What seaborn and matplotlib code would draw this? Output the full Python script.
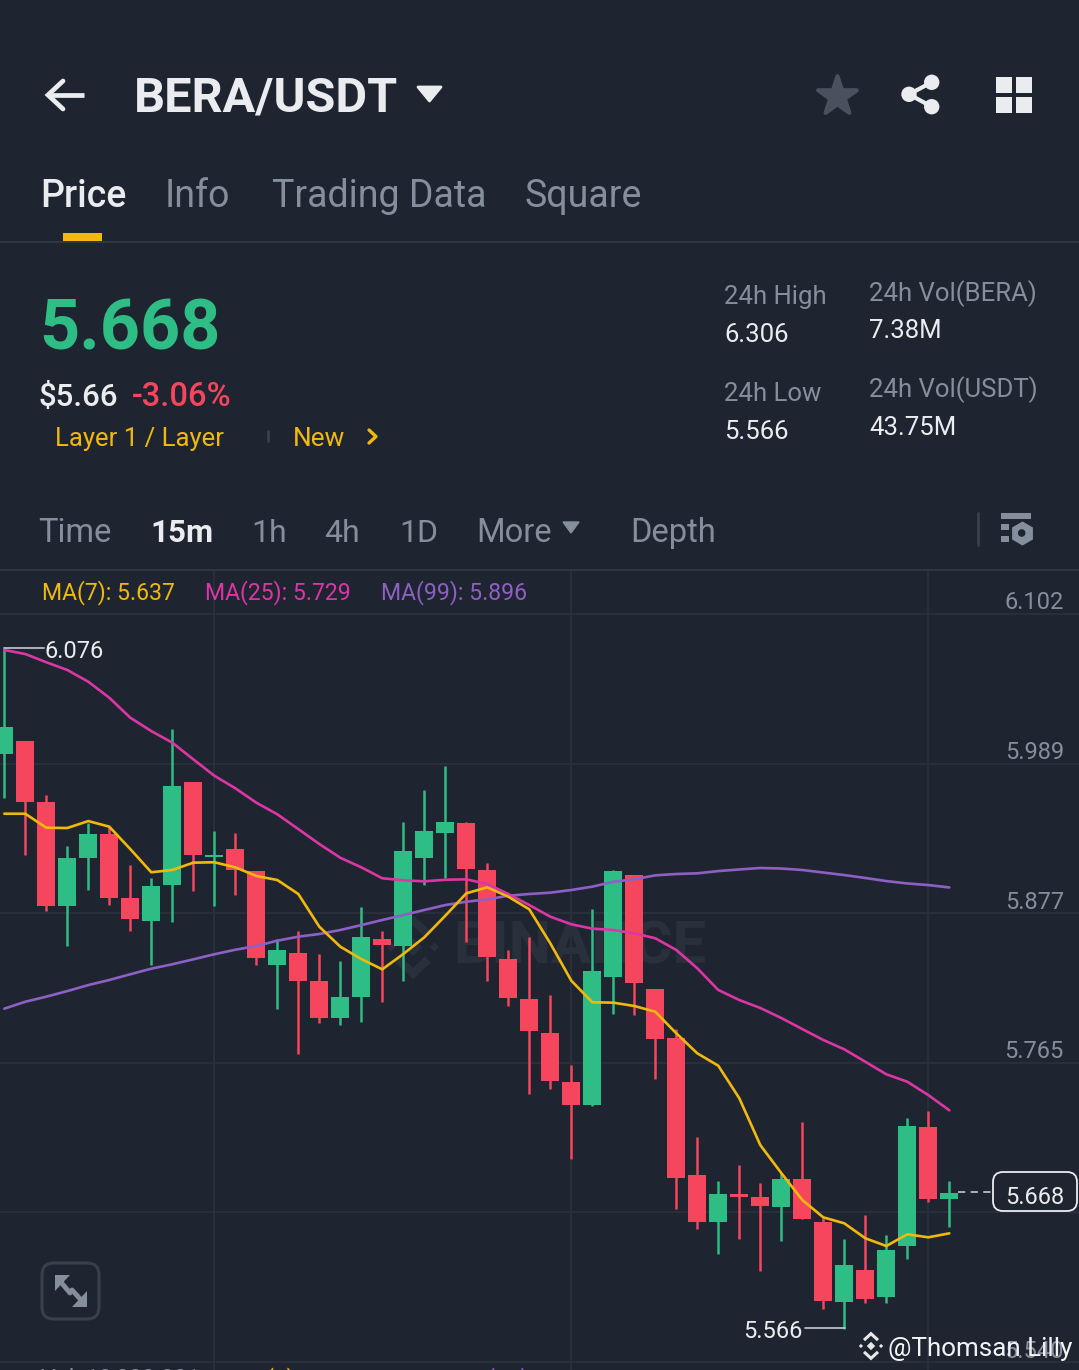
import matplotlib
matplotlib.use("Agg")
import matplotlib.pyplot as plt
from matplotlib.patches import FancyBboxPatch, Polygon, Rectangle, Circle
import pandas as pd
import seaborn as sns

# candles (15m BERA/USDT)
opens = [5.997, 6.007, 5.961, 5.883, 5.919, 5.937, 5.889, 5.872, 5.899, 5.976, 5.920, 5.926,
         5.909, 5.839, 5.848, 5.827, 5.799, 5.815, 5.858, 5.853, 5.919, 5.938, 5.945, 5.910,
         5.843, 5.813, 5.788, 5.751, 5.734, 5.830, 5.906, 5.821, 5.784, 5.681, 5.646, 5.667,
         5.665, 5.657, 5.678, 5.646, 5.586, 5.610, 5.590, 5.628, 5.717, 5.663]
highs = [6.076, 6.007, 5.966, 5.928, 5.945, 5.943, 5.914, 5.904, 6.016, 5.976, 5.939, 5.938,
         5.909, 5.858, 5.864, 5.847, 5.842, 5.882, 5.864, 5.946, 5.970, 5.988, 5.946, 5.915,
         5.850, 5.860, 5.816, 5.764, 5.881, 5.910, 5.906, 5.821, 5.791, 5.710, 5.677, 5.689,
         5.675, 5.683, 5.721, 5.649, 5.633, 5.651, 5.636, 5.724, 5.729, 5.677]
lows = [5.964, 5.921, 5.879, 5.853, 5.895, 5.884, 5.864, 5.839, 5.871, 5.894, 5.883, 5.891,
        5.839, 5.806, 5.772, 5.795, 5.794, 5.796, 5.811, 5.827, 5.899, 5.904, 5.856, 5.827,
        5.808, 5.742, 5.746, 5.693, 5.733, 5.802, 5.801, 5.753, 5.656, 5.641, 5.622, 5.633,
        5.609, 5.632, 5.648, 5.581, 5.566, 5.585, 5.585, 5.618, 5.661, 5.642]
closes = [6.017, 5.961, 5.883, 5.919, 5.937, 5.889, 5.873, 5.898, 5.973, 5.921, 5.921, 5.910,
          5.844, 5.850, 5.827, 5.799, 5.815, 5.860, 5.854, 5.924, 5.939, 5.946, 5.911, 5.845,
          5.814, 5.789, 5.752, 5.734, 5.834, 5.909, 5.825, 5.783, 5.679, 5.646, 5.667, 5.665,
          5.658, 5.678, 5.648, 5.587, 5.614, 5.588, 5.625, 5.718, 5.663, 5.668]

ma7 = [5.9522, 5.9522, 5.9417, 5.9415, 5.9467, 5.9425, 5.9257, 5.9083, 5.910, 5.9155, 5.9158,
       5.912, 5.9055, 5.9025, 5.892, 5.8675, 5.8525, 5.8432, 5.8355, 5.847, 5.8595, 5.8757,
       5.8925, 5.897, 5.890, 5.8805, 5.855, 5.827, 5.8108, 5.8105, 5.808, 5.8037, 5.7875,
       5.7725, 5.7632, 5.7388, 5.7037, 5.6827, 5.6625, 5.6495, 5.645, 5.6338, 5.628, 5.6368,
       5.6345, 5.6375]
ma25 = [6.075, 6.072, 6.0658, 6.060, 6.0512, 6.0392, 6.0242, 6.0142, 6.0055, 5.993, 5.9807,
        5.9713, 5.9605, 5.9518, 5.9407, 5.9295, 5.9192, 5.912, 5.9038, 5.9023, 5.9015, 5.9027,
        5.903, 5.8995, 5.892, 5.8837, 5.875, 5.8693, 5.866, 5.865, 5.8625, 5.8588, 5.850,
        5.8363, 5.820, 5.8125, 5.8065, 5.799, 5.7907, 5.7825, 5.7755, 5.7662, 5.7568, 5.7512,
        5.7412, 5.7298]
ma99 = [5.806, 5.8112, 5.815, 5.8192, 5.8237, 5.8275, 5.8318, 5.836, 5.8393, 5.843, 5.8468,
        5.8502, 5.853, 5.857, 5.860, 5.862, 5.865, 5.8687, 5.8725, 5.8762, 5.880, 5.8837,
        5.8862, 5.888, 5.8907, 5.892, 5.893, 5.895, 5.8975, 5.9012, 5.903, 5.906, 5.907,
        5.9075, 5.9092, 5.9104, 5.9115, 5.9111, 5.910, 5.9081, 5.9062, 5.904, 5.9017, 5.8999,
        5.8987, 5.8969]

grid_prices = [6.102, 5.9898, 5.8776, 5.7654, 5.6532, 5.541]
grid_labels = ["6.102", "5.989", "5.877", "5.765"]
grid_candles = [10, 27, 44]

BG = "#1f2530"
GRID = "#2b313c"
GREEN = "#2ebd85"
RED = "#f6465d"
YELLOW = "#f0b90b"
PINK = "#dc36a6"
PURPLE = "#8e5fc4"
WHITE = "#eaecef"
GREY = "#848e9c"
MARK = "#2a303b"

sns.set_theme(style="dark", rc={"figure.facecolor": BG, "axes.facecolor": BG})
plt.rcParams["font.family"] = ["Roboto", "DejaVu Sans"]

W, H = 1079, 1370
fig = plt.figure(figsize=(W / 100, H / 100), dpi=100)

# pixel layer under the chart, only for the faint watermark
back = fig.add_axes([0, 0, 1, 1], zorder=0)
back.set_xlim(0, W)
back.set_ylim(H, 0)
back.axis("off")

# ---- chart part, y 570..1370 px
ax = fig.add_axes([0, 0, 1, 800 / H], zorder=1)
ax.patch.set_alpha(0)
ax.set_xlim(-4.3 / 21, (W - 4.3) / 21)
ax.set_ylim(5.535, 6.135)
for s in ax.spines.values():
    s.set_visible(False)
ax.set_xticks([])
ax.set_yticks([])

for p in grid_prices:
    ax.axhline(p, color=GRID, lw=1.3, zorder=0)
for c in grid_candles:
    ax.axvline(c, color=GRID, lw=1.3, zorder=0)

df = pd.DataFrame({"open": opens, "high": highs, "low": lows, "close": closes})
df["i"] = df.index
df["color"] = [GREEN if c >= o else RED for o, c in zip(df["open"], df["close"])]

ax.vlines(df["i"], df["low"], df["high"], colors=df["color"], lw=1.8, zorder=2)
ax.bar(df["i"], (df["close"] - df["open"]).abs(), bottom=df[["open", "close"]].min(axis=1),
       width=0.87, color=df["color"], linewidth=0, zorder=3)

sns.lineplot(x=df["i"], y=ma99, ax=ax, color=PURPLE, lw=1.9, zorder=4)
sns.lineplot(x=df["i"], y=ma25, ax=ax, color=PINK, lw=1.9, zorder=4)
sns.lineplot(x=df["i"], y=ma7, ax=ax, color=YELLOW, lw=1.9, zorder=5)
ax.set_xlabel("")
ax.set_ylabel("")

# ---- everything else is drawn on a pixel overlay
ui = fig.add_axes([0, 0, 1, 1], zorder=2)
ui.set_xlim(0, W)
ui.set_ylim(H, 0)
ui.axis("off")
ui.patch.set_alpha(0)


def txt(x, y, s, size, color=WHITE, ha="left", weight="normal", on=None):
    target = ui if on is None else on
    return target.text(x, y, s, fontsize=size, color=color, ha=ha, va="center", weight=weight)


def logo(target, cx, cy, r, color, lw):
    # binance mark: diamonds in the middle and at the sides, chevrons above and below
    for dx, k in [(0, 0.3), (-0.72, 0.15), (0.72, 0.15)]:
        x0 = cx + dx * r
        target.add_patch(Polygon([(x0, cy - k * r), (x0 + k * r, cy), (x0, cy + k * r), (x0 - k * r, cy)],
                                 closed=True, fc=color, ec="none"))
    for sign in [-1, 1]:
        target.plot([cx - 0.5 * r, cx, cx + 0.5 * r],
                    [cy + sign * 0.42 * r, cy + sign * 0.88 * r, cy + sign * 0.42 * r],
                    color=color, lw=lw, solid_capstyle="butt", solid_joinstyle="miter")


# header
ui.plot([48, 84], [95, 95], color=WHITE, lw=3.4, solid_capstyle="butt")
ui.plot([63, 48, 63], [81, 95, 109], color=WHITE, lw=3.4, solid_joinstyle="miter")
txt(134, 98, "BERA/USDT", 35, weight="bold")
ui.add_patch(Polygon([(418, 87), (441, 87), (429.5, 101)], closed=True, fc=WHITE, ec=WHITE, lw=2, joinstyle="round"))
ui.scatter([837], [96], marker="*", s=850, color="#4a505e", linewidths=3, edgecolors="#4a505e", zorder=3)
for cx, cy in [(931.7, 82.3), (909, 94.3), (931.7, 106.7)]:
    ui.add_patch(Circle((cx, cy), 7.7, fc=WHITE, ec="none"))
ui.plot([931.7, 909, 931.7], [82.3, 94.3, 106.7], color=WHITE, lw=3)
for x0, y0 in [(996, 77), (1016, 77), (996, 97), (1016, 97)]:
    ui.add_patch(Rectangle((x0, y0), 15.6, 15.6, fc=WHITE, ec="none"))

# tabs
txt(40, 196, "Price", 27, weight="medium")
txt(165, 196, "Info", 27, color=GREY)
txt(272, 196, "Trading Data", 27, color=GREY)
txt(524, 196, "Square", 27, color=GREY)
ui.add_patch(Rectangle((63, 233), 39, 8, fc=YELLOW, ec="none"))
ui.plot([0, W], [241.5, 241.5], color="#343a45", lw=1.3)

# price block
txt(39, 330, "5.668", 50.5, color=GREEN, weight="bold")
txt(38, 397, "$5.66", 22.5, weight="medium")
txt(132, 397, "-3.06%", 23.5, color=RED, weight="medium")
txt(55, 439, "Layer 1 / Layer", 18.5, color=YELLOW)
ui.plot([268, 268], [431, 441], color="#3a404b", lw=2)
txt(293, 439, "New", 18.8, color=YELLOW)
ui.plot([369, 376, 369], [430, 436.5, 443], color=YELLOW, lw=2.4)

txt(724, 297, "24h High", 18.5, color=GREY)
txt(724, 335, "6.306", 18.5)
txt(724, 394, "24h Low", 18.5, color=GREY)
txt(724, 432, "5.566", 18.5)
txt(869, 294, "24h Vol(BERA)", 18.5, color=GREY)
txt(869, 331, "7.38M", 18.5)
txt(869, 390, "24h Vol(USDT)", 18.5, color=GREY)
txt(869, 428, "43.75M", 18.5)

# interval row
txt(38, 533, "Time", 23.5, color=GREY)
txt(150, 533, "15m", 22.5, weight="bold")
txt(251, 533, "1h", 23, color=GREY)
txt(324, 533, "4h", 23, color=GREY)
txt(399, 533, "1D", 23, color=GREY)
txt(476, 533, "More", 23.5, color=GREY)
ui.add_patch(Polygon([(563, 522), (579, 522), (571, 533)], closed=True, fc=GREY, ec=GREY, lw=1))
txt(630, 533, "Depth", 23.5, color=GREY)
ui.plot([977.5, 977.5], [513, 545], color="#3a404b", lw=2)
ui.add_patch(Rectangle((1001, 513), 30, 5.5, fc=GREY, ec="none"))
ui.add_patch(Rectangle((1001, 524), 8, 5.5, fc=GREY, ec="none"))
ui.add_patch(Rectangle((1001, 536), 8, 5.5, fc=GREY, ec="none"))
ui.scatter([1021.7], [533], marker="h", s=300, color=GREY, linewidths=0)
ui.add_patch(Circle((1021.7, 533), 3.8, fc=BG, ec="none", zorder=4))
ui.plot([0, W], [570, 570], color="#343a45", lw=1.3)

# MA legend
txt(42, 593, "MA(7): 5.637", 16.6, color=YELLOW)
txt(205, 593, "MA(25): 5.729", 16.6, color=PINK)
txt(381, 593, "MA(99): 5.896", 16.6, color=PURPLE)

# price axis labels
for p, lab in zip([602, 752, 902, 1051], grid_labels):
    txt(1064, p, lab, 17, color=GREY, ha="right")

# binance watermark behind the candles
txt(453, 947, "BINANCE", 43, color=MARK, weight="bold", on=back)
logo(back, 413, 947, 30, MARK, 6)

# hi / lo marks
ui.plot([4, 44], [648, 648], color="#b7bdc6", lw=1.3)
txt(44, 651, "6.076", 17)
ui.plot([805, 845], [1328, 1328], color="#b7bdc6", lw=1.3)
txt(803, 1331, "5.566", 17, ha="right")

# last price tag
ui.plot([958, 993], [1192, 1192], color="#b7bdc6", lw=1.3, ls=(0, (4, 3)))
ui.add_patch(FancyBboxPatch((1003, 1182), 64, 19, boxstyle="round,pad=10,rounding_size=10", fc=BG, ec=WHITE, lw=1.3))
txt(1064, 1198, "5.668", 17, ha="right")

# expand button
ui.add_patch(FancyBboxPatch((52, 1273), 37, 36, boxstyle="round,pad=10,rounding_size=12", fc="none", ec="#3a404b", lw=2.2))
ui.add_patch(Polygon([(55, 1275), (70, 1275), (55, 1291)], closed=True, fc=GREY, ec="none"))
ui.add_patch(Polygon([(87, 1307), (72, 1307), (87, 1291)], closed=True, fc=GREY, ec="none"))
ui.plot([60, 70], [1281, 1293], color=GREY, lw=3.5)
ui.plot([82, 72], [1301, 1290], color=GREY, lw=3.5)

# volume row, cut by the bottom of the picture
txt(41, 1379.5, "Vol: 13,822.321", 16.6, color=GREY)
txt(231, 1379.5, "MA(5): 24,818.817", 16.6, color=YELLOW)
txt(452, 1379.5, "MA(10): 30,188.188", 16.6, color=PURPLE)

# site watermark
txt(1064, 1351, "5.540", 17, color=GREY, ha="right")
logo(ui, 871, 1346, 14, "#e6e8ea", 2.2)
txt(888, 1349, "@Thomsan Lilly", 18.7, color="#f2f3f5")

fig.savefig("out.png", dpi=100, facecolor=BG)
